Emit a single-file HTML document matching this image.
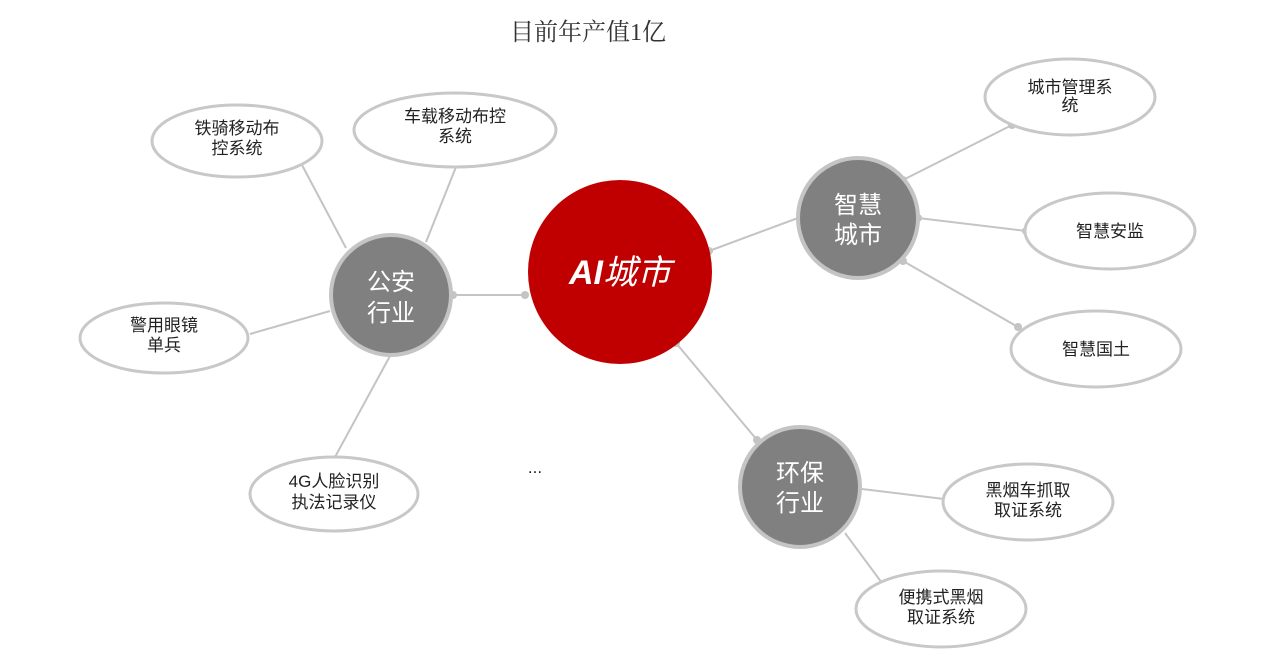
<!DOCTYPE html>
<html><head><meta charset="utf-8"><style>
html,body{margin:0;padding:0;background:#fff;}
svg{display:block;}
text{font-family:"Liberation Sans","Noto Sans CJK SC",sans-serif;}
.sf{font-family:"Liberation Serif","Noto Serif CJK SC",serif;}
</style></head><body>
<svg width="1280" height="659" viewBox="0 0 1280 659" xmlns="http://www.w3.org/2000/svg">
<g stroke="#c4c4c4" stroke-width="2" fill="none">
<line x1="453" y1="295" x2="527" y2="295"/>
<line x1="346" y1="248" x2="302" y2="165"/>
<line x1="426" y1="242" x2="456" y2="167"/>
<line x1="330" y1="311" x2="250" y2="334"/>
<line x1="390" y1="356" x2="335" y2="457"/>
<line x1="709" y1="251" x2="798" y2="218"/>
<line x1="903" y1="180" x2="1012" y2="125"/>
<line x1="918" y1="218" x2="1026" y2="231"/>
<line x1="903" y1="261" x2="1018" y2="327"/>
<line x1="676" y1="343" x2="757" y2="440"/>
<line x1="862" y1="489" x2="944" y2="499"/>
<line x1="845" y1="533" x2="882" y2="583"/>
</g>
<g fill="#c4c4c4">
<circle cx="453" cy="295" r="4"/><circle cx="525" cy="295" r="4"/>
<circle cx="709" cy="251" r="4"/><circle cx="676" cy="343" r="4"/>
<circle cx="903" cy="180" r="4"/><circle cx="918" cy="218" r="4"/><circle cx="903" cy="261" r="4"/>
<circle cx="1012" cy="125" r="4"/><circle cx="1026" cy="231" r="4"/><circle cx="1018" cy="327" r="4"/>
<circle cx="757" cy="440" r="4"/>
</g>
<g fill="#fff" stroke="#c8c8c8" stroke-width="3">
<ellipse cx="237" cy="141" rx="85" ry="36"/>
<ellipse cx="455" cy="130" rx="101" ry="37"/>
<ellipse cx="164" cy="338" rx="84" ry="35"/>
<ellipse cx="334" cy="494" rx="84" ry="37"/>
<ellipse cx="1070" cy="97" rx="85" ry="38"/>
<ellipse cx="1110" cy="231" rx="85" ry="38"/>
<ellipse cx="1096" cy="349" rx="85" ry="38"/>
<ellipse cx="1028" cy="502" rx="85" ry="38"/>
<ellipse cx="941" cy="609" rx="85" ry="38"/>
</g>
<circle cx="620" cy="272" r="92" fill="#c00000"/>
<g fill="#808080" stroke="#c4c4c4" stroke-width="4">
<circle cx="391" cy="295" r="60"/>
<circle cx="858" cy="218" r="60"/>
<circle cx="800" cy="487" r="60"/>
</g>
<text class="sf" x="588" y="40" font-size="24" fill="#333" text-anchor="middle">目前年产值1亿</text>
<text x="620" y="284" font-size="34" fill="#fff" text-anchor="middle" font-style="italic" font-weight="bold">AI<tspan font-weight="normal">城市</tspan></text>
<g fill="#fff" font-size="24" text-anchor="middle">
<text x="391" y="290">公安</text><text x="391" y="321">行业</text>
<text x="858" y="213">智慧</text><text x="858" y="243">城市</text>
<text x="800" y="481">环保</text><text x="800" y="511">行业</text>
</g>
<g class="sf" fill="#222" font-size="17" text-anchor="middle">
<text x="237" y="134">铁骑移动布</text><text x="237" y="154">控系统</text>
<text x="455" y="122">车载移动布控</text><text x="455" y="142">系统</text>
<text x="164" y="331">警用眼镜</text><text x="164" y="351">单兵</text>
<text x="334" y="487">4G人脸识别</text><text x="334" y="508">执法记录仪</text>
<text x="1070" y="93">城市管理系</text><text x="1070" y="111">统</text>
<text x="1110" y="237">智慧安监</text>
<text x="1096" y="355">智慧国土</text>
<text x="1028" y="496">黑烟车抓取</text><text x="1028" y="516">取证系统</text>
<text x="941" y="603">便携式黑烟</text><text x="941" y="623">取证系统</text>
<text x="535" y="473">...</text>
</g>
</svg>
</body></html>
